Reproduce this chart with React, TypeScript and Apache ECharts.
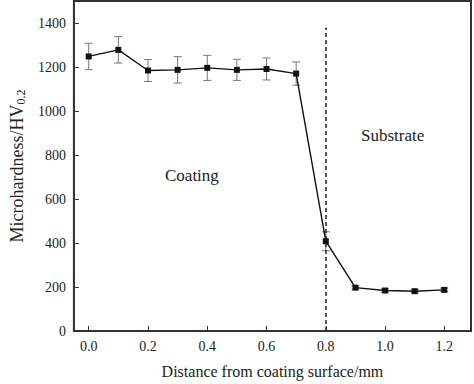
import React, { useEffect, useRef } from "react";
import * as echarts from "echarts";

const distances = [0.0, 0.1, 0.2, 0.3, 0.4, 0.5, 0.6, 0.7, 0.8, 0.9, 1.0, 1.1, 1.2];
const hardness = [1248, 1278, 1184, 1187, 1196, 1187, 1191, 1170, 408, 197, 184, 181, 187];
const errors = [60, 60, 50, 60, 57, 48, 50, 53, 43, 8, 8, 7, 8];
const xTicks = [0.0, 0.2, 0.4, 0.6, 0.8, 1.0, 1.2];
const boundaryX = 0.8;
const boundaryTop = 1380;

const serif = "Liberation Serif";

export default function App() {
  const ref = useRef<HTMLDivElement>(null);
  useEffect(() => {
    if (!ref.current) return;
    const chart = echarts.init(ref.current, undefined, { renderer: "svg" });
    const pts = distances.map((d, i) => [d, hardness[i]]);
    const errData = distances.map((d, i) => [d, hardness[i] - errors[i], hardness[i] + errors[i]]);
    const annot = (text: string, left: number, top: number) => ({
      text,
      left,
      top,
      padding: 0,
      textStyle: { fontFamily: serif, fontSize: 17, fontWeight: "normal", color: "#222" },
    });
    chart.setOption({
      animation: false,
      backgroundColor: "#fff",
      textStyle: { fontFamily: serif },
      title: [annot("Coating", 165, 167), annot("Substrate", 361, 127)],
      grid: {
        left: 59,
        right: 3,
        top: 1,
        bottom: 51,
        show: true,
        borderColor: "#333",
        borderWidth: 2,
      },
      xAxis: {
        type: "value",
        min: -0.05,
        max: 1.29,
        name: "Distance from coating surface/mm",
        nameLocation: "middle",
        nameGap: 32,
        nameTextStyle: { fontFamily: serif, fontSize: 16, color: "#222" },
        axisLine: { show: true, onZero: false, lineStyle: { color: "#333", width: 1.5 } },
        axisTick: { show: true, inside: true, length: 5, customValues: xTicks, lineStyle: { color: "#333" } },
        axisLabel: {
          customValues: xTicks,
          formatter: (v: number) => v.toFixed(1),
          fontFamily: serif,
          fontSize: 14,
          color: "#222",
          margin: 8,
        },
        splitLine: { show: false },
      },
      yAxis: {
        type: "value",
        min: 0,
        max: 1500,
        interval: 200,
        name: "{a|Microhardness/HV}{b|0.2}",
        nameLocation: "middle",
        nameRotate: 90,
        nameGap: 46,
        nameTextStyle: {
          fontFamily: serif,
          color: "#222",
          rich: {
            a: { fontFamily: serif, fontSize: 18, color: "#222" },
            b: { fontFamily: serif, fontSize: 12, color: "#222", padding: [8, 0, 0, 0] },
          },
        },
        axisLine: { show: true, onZero: false, lineStyle: { color: "#333", width: 1.5 } },
        axisTick: { show: true, inside: true, length: 5, lineStyle: { color: "#333" } },
        axisLabel: {
          fontFamily: serif,
          fontSize: 14,
          color: "#222",
          margin: 8,
          showMaxLabel: false,
          formatter: (v: number) => (v > 1400 ? "" : String(v)),
        },
        splitLine: { show: false },
      },
      series: [
        {
          type: "custom",
          data: errData,
          z: 1,
          renderItem: (params: any, api: any) => {
            const x = api.value(0);
            const lo = api.coord([x, api.value(1)]);
            const hi = api.coord([x, api.value(2)]);
            const w = 4;
            const style = { stroke: "#777", lineWidth: 1 };
            return {
              type: "group",
              children: [
                { type: "line", shape: { x1: lo[0], y1: lo[1], x2: hi[0], y2: hi[1] }, style },
                { type: "line", shape: { x1: lo[0] - w, y1: lo[1], x2: lo[0] + w, y2: lo[1] }, style },
                { type: "line", shape: { x1: hi[0] - w, y1: hi[1], x2: hi[0] + w, y2: hi[1] }, style },
              ],
            };
          },
        },
        {
          type: "line",
          data: pts,
          z: 3,
          symbol: "rect",
          symbolSize: 6,
          itemStyle: { color: "#111" },
          lineStyle: { color: "#111", width: 1.4 },
          markLine: {
            silent: true,
            symbol: "none",
            label: { show: false },
            lineStyle: { color: "#222", width: 1.5, type: [4, 3] },
            data: [[{ coord: [boundaryX, 0] }, { coord: [boundaryX, boundaryTop] }]],
          },
        },
      ],
    });
    return () => chart.dispose();
  }, []);
  return <div ref={ref} style={{ width: 474, height: 384, position: "absolute", left: 0, top: 0 }} />;
}
